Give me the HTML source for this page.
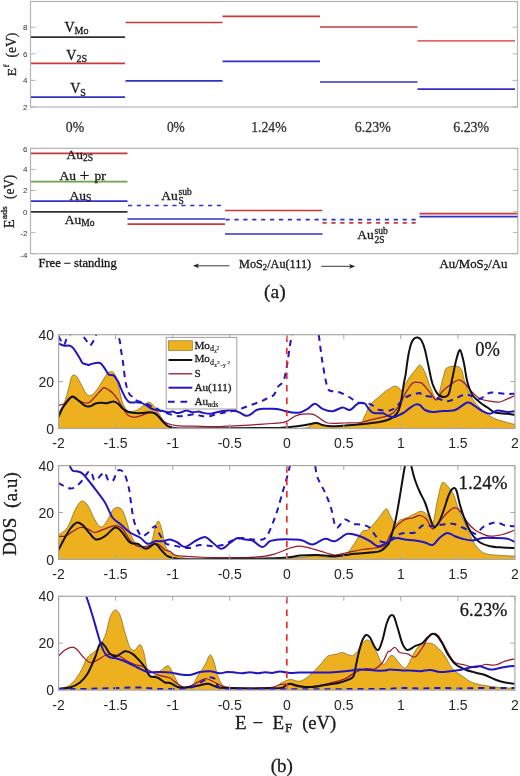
<!DOCTYPE html>
<html><head><meta charset="utf-8"><title>Figure</title>
<style>html,body{margin:0;padding:0;background:#fff;}svg{display:block;}
.s{font-family:"Liberation Serif",serif;fill:#1a1a1a;stroke:#1a1a1a;stroke-width:0.3px;}</style>
</head><body>
<svg width="520" height="776" viewBox="0 0 520 776">
<rect width="520" height="776" fill="#fff"/>
<rect x="30.5" y="1.5" width="487.0" height="105.5" fill="none" stroke="#b4b4b4" stroke-width="1.2"/>
<line x1="30.5" y1="107.0" x2="35.5" y2="107.0" stroke="#b4b4b4" stroke-width="1"/>
<line x1="512.5" y1="107.0" x2="517.5" y2="107.0" stroke="#b4b4b4" stroke-width="1"/>
<text x="27.4" y="109.9" font-family="'Liberation Sans', Arial, sans-serif" font-size="8" fill="#333" text-anchor="end">2</text>
<line x1="30.5" y1="80.4" x2="35.5" y2="80.4" stroke="#b4b4b4" stroke-width="1"/>
<line x1="512.5" y1="80.4" x2="517.5" y2="80.4" stroke="#b4b4b4" stroke-width="1"/>
<text x="27.4" y="83.3" font-family="'Liberation Sans', Arial, sans-serif" font-size="8" fill="#333" text-anchor="end">4</text>
<line x1="30.5" y1="53.8" x2="35.5" y2="53.8" stroke="#b4b4b4" stroke-width="1"/>
<line x1="512.5" y1="53.8" x2="517.5" y2="53.8" stroke="#b4b4b4" stroke-width="1"/>
<text x="27.4" y="56.7" font-family="'Liberation Sans', Arial, sans-serif" font-size="8" fill="#333" text-anchor="end">6</text>
<line x1="30.5" y1="27.2" x2="35.5" y2="27.2" stroke="#b4b4b4" stroke-width="1"/>
<line x1="512.5" y1="27.2" x2="517.5" y2="27.2" stroke="#b4b4b4" stroke-width="1"/>
<text x="27.4" y="30.1" font-family="'Liberation Sans', Arial, sans-serif" font-size="8" fill="#333" text-anchor="end">8</text>
<line x1="31.0" y1="37.1" x2="125.0" y2="37.1" stroke="#303030" stroke-width="1.7"/>
<line x1="31.0" y1="63.4" x2="125.0" y2="63.4" stroke="#cc3838" stroke-width="1.7"/>
<line x1="31.0" y1="97.1" x2="125.0" y2="97.1" stroke="#3030cc" stroke-width="1.7"/>
<line x1="125.5" y1="22.5" x2="222.5" y2="22.5" stroke="#cc3838" stroke-width="1.7"/>
<line x1="125.5" y1="80.9" x2="222.5" y2="80.9" stroke="#3030cc" stroke-width="1.7"/>
<line x1="222.5" y1="16.3" x2="320.0" y2="16.3" stroke="#cc3838" stroke-width="1.7"/>
<line x1="222.5" y1="61.3" x2="320.0" y2="61.3" stroke="#3030cc" stroke-width="1.7"/>
<line x1="320.0" y1="27.0" x2="417.5" y2="27.0" stroke="#cc3838" stroke-width="1.7"/>
<line x1="320.0" y1="82.0" x2="417.5" y2="82.0" stroke="#3030cc" stroke-width="1.7"/>
<line x1="417.5" y1="40.8" x2="515.0" y2="40.8" stroke="#e06868" stroke-width="1.7"/>
<line x1="417.5" y1="89.2" x2="515.0" y2="89.2" stroke="#3030cc" stroke-width="1.7"/>
<text x="64.4" y="31.8" class="s" font-size="14.0">V<tspan font-size="10.0" dy="2.2">Mo</tspan></text>
<text x="66.3" y="59.7" class="s" font-size="14.0">V<tspan font-size="10.0" dy="2.2">2S</tspan></text>
<text x="70.2" y="93.4" class="s" font-size="14.0">V<tspan font-size="10.0" dy="2.2">S</tspan></text>
<text transform="translate(15.6,76.3) rotate(-90)" class="s" font-size="13.5">E</text>
<text transform="translate(9.4,67.2) rotate(-90)" class="s" font-size="8.0">f</text>
<text transform="translate(16.4,57.6) rotate(-90)" class="s" font-size="14.5" textLength="25" lengthAdjust="spacingAndGlyphs">(eV)</text>
<text x="65.8" y="132.3" class="s" style="fill:#333;stroke:#333" font-size="15.5" textLength="18.4" lengthAdjust="spacingAndGlyphs">0%</text>
<text x="166.9" y="132.3" class="s" style="fill:#333;stroke:#333" font-size="15.5" textLength="17.9" lengthAdjust="spacingAndGlyphs">0%</text>
<text x="251.2" y="132.3" class="s" style="fill:#333;stroke:#333" font-size="15.5" textLength="35.5" lengthAdjust="spacingAndGlyphs">1.24%</text>
<text x="354.8" y="132.3" class="s" style="fill:#333;stroke:#333" font-size="15.5" textLength="36.0" lengthAdjust="spacingAndGlyphs">6.23%</text>
<text x="453.2" y="132.3" class="s" style="fill:#333;stroke:#333" font-size="15.5" textLength="36.0" lengthAdjust="spacingAndGlyphs">6.23%</text>
<rect x="30.5" y="148.3" width="487.3" height="105.4" fill="none" stroke="#b4b4b4" stroke-width="1.2"/>
<line x1="30.5" y1="148.6" x2="35.5" y2="148.6" stroke="#b4b4b4" stroke-width="1"/>
<line x1="512.8" y1="148.6" x2="517.8" y2="148.6" stroke="#b4b4b4" stroke-width="1"/>
<text x="27.4" y="151.5" font-family="'Liberation Sans', Arial, sans-serif" font-size="8" fill="#333" text-anchor="end">6</text>
<line x1="30.5" y1="169.4" x2="35.5" y2="169.4" stroke="#b4b4b4" stroke-width="1"/>
<line x1="512.8" y1="169.4" x2="517.8" y2="169.4" stroke="#b4b4b4" stroke-width="1"/>
<text x="27.4" y="172.3" font-family="'Liberation Sans', Arial, sans-serif" font-size="8" fill="#333" text-anchor="end">4</text>
<line x1="30.5" y1="190.5" x2="35.5" y2="190.5" stroke="#b4b4b4" stroke-width="1"/>
<line x1="512.8" y1="190.5" x2="517.8" y2="190.5" stroke="#b4b4b4" stroke-width="1"/>
<text x="27.4" y="193.4" font-family="'Liberation Sans', Arial, sans-serif" font-size="8" fill="#333" text-anchor="end">2</text>
<line x1="30.5" y1="211.7" x2="35.5" y2="211.7" stroke="#b4b4b4" stroke-width="1"/>
<line x1="512.8" y1="211.7" x2="517.8" y2="211.7" stroke="#b4b4b4" stroke-width="1"/>
<text x="27.4" y="214.6" font-family="'Liberation Sans', Arial, sans-serif" font-size="8" fill="#333" text-anchor="end">0</text>
<line x1="30.5" y1="232.6" x2="35.5" y2="232.6" stroke="#b4b4b4" stroke-width="1"/>
<line x1="512.8" y1="232.6" x2="517.8" y2="232.6" stroke="#b4b4b4" stroke-width="1"/>
<text x="27.4" y="235.5" font-family="'Liberation Sans', Arial, sans-serif" font-size="8" fill="#333" text-anchor="end">-2</text>
<line x1="30.5" y1="253.7" x2="35.5" y2="253.7" stroke="#b4b4b4" stroke-width="1"/>
<line x1="512.8" y1="253.7" x2="517.8" y2="253.7" stroke="#b4b4b4" stroke-width="1"/>
<text x="27.4" y="258.1" font-family="'Liberation Sans', Arial, sans-serif" font-size="8" fill="#333" text-anchor="end">-4</text>
<line x1="31.0" y1="153.3" x2="127.5" y2="153.3" stroke="#cc3838" stroke-width="1.7"/>
<line x1="31.0" y1="181.6" x2="127.5" y2="181.6" stroke="#6fa24a" stroke-width="1.7"/>
<line x1="31.0" y1="201.1" x2="127.5" y2="201.1" stroke="#3030cc" stroke-width="1.7"/>
<line x1="31.0" y1="211.8" x2="127.5" y2="211.8" stroke="#303030" stroke-width="1.7"/>
<line x1="127.9" y1="205.5" x2="225.0" y2="205.5" stroke="#3030cc" stroke-width="1.7" stroke-dasharray="4.2 4.7"/>
<line x1="127.5" y1="219.0" x2="225.0" y2="219.0" stroke="#3030cc" stroke-width="1.7"/>
<line x1="127.5" y1="224.2" x2="225.0" y2="224.2" stroke="#cc3838" stroke-width="1.7"/>
<line x1="225.0" y1="210.5" x2="322.5" y2="210.5" stroke="#cc3838" stroke-width="1.7"/>
<line x1="225.5" y1="219.7" x2="322.5" y2="219.7" stroke="#3030cc" stroke-width="1.7" stroke-dasharray="4.2 4.7"/>
<line x1="225.0" y1="234.0" x2="322.5" y2="234.0" stroke="#3030cc" stroke-width="1.7"/>
<line x1="322.5" y1="219.7" x2="417.5" y2="219.7" stroke="#3030cc" stroke-width="1.7" stroke-dasharray="4.2 4.7"/>
<line x1="322.5" y1="222.8" x2="417.5" y2="222.8" stroke="#cc3838" stroke-width="1.7" stroke-dasharray="4.2 4.7"/>
<line x1="419.5" y1="213.6" x2="517.5" y2="213.6" stroke="#cc3838" stroke-width="1.7"/>
<line x1="419.5" y1="216.6" x2="517.5" y2="216.6" stroke="#3030cc" stroke-width="1.7"/>
<text x="66.4" y="159.4" class="s" font-size="13.5">Au<tspan font-size="9.5" dy="1.7">2S</tspan></text>
<text x="59.6" y="179.6" class="s" font-size="13.5">Au</text>
<text x="79.4" y="181.0" class="s" font-size="17.5">+</text>
<text x="94.5" y="179.6" class="s" font-size="13.5">pr</text>
<text x="69.6" y="199.5" class="s" font-size="13.5">Au<tspan font-size="9.5" dy="1.2">S</tspan></text>
<text x="64.8" y="224.0" class="s" font-size="13.5">Au<tspan font-size="9.5" dy="2.3">Mo</tspan></text>
<text x="161.3" y="199.7" class="s" font-size="13.5">Au</text>
<text x="178.6" y="194.9" class="s" font-size="9.5">sub</text>
<text x="178.6" y="203.6" class="s" font-size="9.5">S</text>
<text x="357.2" y="238.8" class="s" font-size="13.5">Au</text>
<text x="374.6" y="233.5" class="s" font-size="9.5">sub</text>
<text x="374.6" y="243.1" class="s" font-size="9.5">2S</text>
<text transform="translate(13.5,228.3) rotate(-90)" class="s" font-size="14.5">E</text>
<text transform="translate(7.4,219.2) rotate(-90)" class="s" font-size="8.5" textLength="13" lengthAdjust="spacingAndGlyphs">ads</text>
<text transform="translate(14.3,199.0) rotate(-90)" class="s" font-size="14.5" textLength="24.3" lengthAdjust="spacingAndGlyphs">(eV)</text>
<text x="38.4" y="266.7" class="s" font-size="11.5" textLength="78.3" lengthAdjust="spacingAndGlyphs">Free − standing</text>
<line x1="196" y1="265.8" x2="229.4" y2="265.8" stroke="#222" stroke-width="0.9"/>
<path d="M192.9,265.8 L199,263.4 L197.6,265.8 L199,268.2 Z" fill="#222"/>
<line x1="321.3" y1="266.3" x2="352" y2="266.3" stroke="#222" stroke-width="0.9"/>
<path d="M355.2,266.3 L349.1,263.9 L350.5,266.3 L349.1,268.7 Z" fill="#222"/>
<text x="239.1" y="268.2" class="s" font-size="12" textLength="72" lengthAdjust="spacingAndGlyphs">MoS<tspan font-size="8.5" dy="2">2</tspan><tspan dy="-2">/Au(111)</tspan></text>
<text x="439.5" y="268.2" class="s" font-size="12" textLength="68" lengthAdjust="spacingAndGlyphs">Au/MoS<tspan font-size="8.5" dy="2">2</tspan><tspan dy="-2">/Au</tspan></text>
<text x="274.9" y="298.0" class="s" font-size="19.5" text-anchor="middle">(a)</text>
<clipPath id="c0"><rect x="58.6" y="334.7" width="456.3" height="93.8"/></clipPath>
<g clip-path="url(#c0)">
<path d="M58.4,412.3 C59.4,410.8 62.5,407.1 64.2,403.0 C65.9,398.9 67.5,392.2 68.8,387.7 C70.1,383.2 70.6,378.1 71.9,376.2 C73.2,374.3 75.0,374.8 76.5,376.2 C78.0,377.6 79.7,381.8 81.2,384.6 C82.8,387.4 84.4,391.1 85.8,393.0 C87.2,394.9 88.1,395.8 89.6,395.7 C91.1,395.6 93.1,394.4 95.0,392.3 C96.9,390.2 99.3,385.9 101.2,383.0 C103.1,380.1 105.1,376.4 106.5,374.6 C107.9,372.8 108.4,372.4 109.6,372.0 C110.8,371.6 112.3,371.2 113.5,372.3 C114.7,373.4 115.5,375.4 116.5,378.5 C117.5,381.6 118.6,386.7 119.6,390.8 C120.6,394.9 121.4,399.7 122.7,403.0 C124.0,406.3 125.9,409.4 127.3,410.8 C128.7,412.2 129.5,411.6 131.2,411.5 C132.9,411.4 135.2,411.0 137.3,410.0 C139.4,409.0 141.6,406.7 143.5,405.4 C145.4,404.1 147.3,402.4 148.8,402.3 C150.3,402.2 151.3,403.2 152.7,404.6 C154.1,406.0 155.8,408.5 157.3,410.8 C158.8,413.1 160.5,416.2 161.9,418.5 C163.3,420.8 164.5,423.1 165.8,424.6 C167.1,426.1 168.4,427.1 169.6,427.7 C170.8,428.3 169.6,428.3 172.7,428.4 C194.4,428.5 277.1,428.8 300.0,428.4 C310.0,428.0 307.5,426.9 310.0,426.0 C312.5,425.1 313.3,423.2 315.0,423.0 C316.7,422.8 317.2,423.9 320.0,424.5 C322.8,425.1 327.8,426.3 332.0,426.5 C336.2,426.7 340.3,426.0 345.0,425.5 C349.7,425.0 356.7,425.2 360.0,423.6 C363.3,422.0 363.1,418.9 364.6,416.1 C366.1,413.3 367.7,409.4 369.2,406.9 C370.7,404.4 372.1,402.8 373.8,401.1 C375.5,399.4 377.7,398.1 379.6,396.5 C381.5,394.9 383.5,392.7 385.4,391.3 C387.3,389.9 389.6,388.8 391.1,387.9 C392.6,387.0 393.2,386.1 394.6,386.1 C396.0,386.1 398.1,387.1 399.2,387.9 C400.3,388.7 400.4,391.7 401.5,390.8 C402.6,389.9 404.6,385.2 406.1,382.7 C407.6,380.2 409.1,377.9 410.7,375.8 C412.2,373.7 413.8,371.8 415.4,370.0 C416.9,368.2 418.4,364.6 420.0,365.0 C421.6,365.4 423.3,369.0 425.0,372.5 C426.7,376.0 428.1,381.9 430.0,386.2 C431.9,390.6 434.6,398.1 436.2,398.8 C437.9,399.4 438.8,394.0 440.0,390.0 C441.2,386.0 442.5,378.8 443.8,375.0 C445.0,371.2 444.8,368.8 447.5,367.5 C450.2,366.2 457.1,365.0 460.0,367.5 C462.9,370.0 463.3,377.9 465.0,382.5 C466.7,387.1 468.1,391.5 470.0,395.0 C471.9,398.5 473.8,400.8 476.2,403.8 C478.8,406.7 481.9,410.0 485.0,412.5 C488.1,415.0 491.2,417.1 495.0,418.8 C498.8,420.4 504.2,421.5 507.5,422.5 C510.8,423.5 513.8,424.2 515.0,424.5 L515.0,429.5 L58.4,429.5 Z" fill="#EDB120" stroke="#7d6418" stroke-width="0.7" stroke-linejoin="round"/>
<path d="M58.4,405.4 C59.4,405.1 62.5,404.9 64.2,403.8 C65.9,402.7 67.5,399.6 68.8,398.5 C70.1,397.4 70.6,396.8 71.9,396.9 C73.2,397.0 74.7,398.3 76.5,399.2 C78.3,400.1 80.7,401.7 82.7,402.3 C84.8,402.9 86.8,403.7 88.8,402.8 C90.8,401.9 92.9,399.0 95.0,396.9 C97.1,394.8 99.7,391.5 101.2,390.0 C102.7,388.5 102.9,387.7 104.2,387.7 C105.5,387.7 107.2,389.0 108.8,390.0 C110.3,391.0 112.0,392.1 113.5,393.8 C115.0,395.5 116.6,397.7 118.1,400.0 C119.6,402.3 121.2,405.3 122.7,407.7 C124.2,410.1 125.8,413.1 127.3,414.6 C128.8,416.1 130.2,416.5 131.9,416.9 C133.6,417.3 135.4,417.3 137.3,416.9 C139.2,416.5 141.4,415.3 143.5,414.6 C145.6,413.9 147.5,412.9 149.6,412.6 C151.7,412.4 154.0,412.2 155.8,413.1 C157.6,414.0 158.9,416.2 160.4,417.7 C161.9,419.2 163.2,421.1 165.0,422.3 C166.8,423.5 168.9,424.0 171.2,424.6 C173.5,425.2 175.0,425.5 178.8,425.8 C182.6,426.1 188.3,426.1 194.2,426.2 C200.1,426.3 207.6,426.8 214.2,426.7 C220.8,426.6 227.1,426.1 233.5,425.8 C239.9,425.5 246.3,425.2 252.7,424.8 C259.1,424.4 266.8,423.9 271.9,423.5 C277.0,423.1 280.6,422.9 283.5,422.3 C286.4,421.7 287.3,421.0 289.2,420.0 C291.1,419.0 292.8,417.2 295.0,416.2 C297.2,415.3 299.6,414.6 302.5,414.2 C305.4,413.9 309.8,413.7 312.5,414.2 C315.2,414.8 316.2,416.0 318.8,417.5 C321.2,419.0 323.1,422.1 327.5,423.0 C331.9,423.9 339.6,423.1 345.0,423.0 C350.4,422.9 356.4,422.9 360.0,422.5 C363.6,422.1 364.0,421.5 366.9,420.8 C369.8,420.1 374.0,419.2 377.3,418.4 C380.6,417.6 383.8,417.1 386.5,416.1 C389.2,415.2 391.5,414.2 393.4,412.7 C395.3,411.2 396.8,408.8 398.1,406.9 C399.5,405.0 400.4,403.2 401.5,401.1 C402.6,399.0 403.9,396.3 405.0,394.2 C406.1,392.1 407.2,390.2 408.4,388.5 C409.5,386.8 410.7,384.9 411.9,383.8 C413.1,382.7 414.0,382.3 415.4,382.1 C416.8,381.9 418.8,382.4 420.0,382.7 C421.2,383.0 420.8,382.1 422.5,383.8 C424.2,385.4 427.7,389.8 430.0,392.5 C432.3,395.2 434.2,400.2 436.2,400.0 C438.3,399.8 440.2,393.8 442.5,391.2 C444.8,388.8 447.3,386.9 450.0,385.0 C452.7,383.1 456.2,380.2 458.8,380.0 C461.2,379.8 462.7,381.7 465.0,383.8 C467.3,385.8 470.0,390.0 472.5,392.5 C475.0,395.0 477.1,397.3 480.0,398.8 C482.9,400.2 486.7,400.7 490.0,401.2 C493.3,401.8 497.1,402.4 500.0,402.0 C502.9,401.6 505.0,399.8 507.5,398.8 C510.0,397.7 513.8,396.0 515.0,395.5" fill="none" stroke="#9a1a2c" stroke-width="1.25" stroke-linejoin="round"/>
<path d="M58.4,417.2 C59.1,415.6 61.2,410.3 62.7,407.7 C64.2,405.1 65.8,403.4 67.3,401.5 C68.8,399.6 70.6,397.2 71.9,396.6 C73.2,396.0 73.7,396.9 75.0,397.7 C76.3,398.5 77.8,400.1 79.6,401.5 C81.4,402.9 84.0,405.4 85.8,406.2 C87.6,407.0 88.9,406.6 90.4,406.2 C91.9,405.8 93.2,404.4 95.0,403.8 C96.8,403.2 99.2,402.9 101.2,402.8 C103.2,402.7 105.2,403.3 107.3,403.1 C109.3,402.9 111.7,401.4 113.5,401.5 C115.3,401.6 116.6,402.6 118.1,403.8 C119.6,405.0 121.2,407.2 122.7,408.5 C124.2,409.8 125.9,410.8 127.3,411.5 C128.7,412.2 129.0,412.3 131.2,412.6 C133.4,412.9 137.6,413.2 140.4,413.1 C143.2,413.1 145.7,412.3 148.0,412.3 C150.3,412.3 152.4,412.3 154.2,413.1 C156.0,413.9 157.2,415.4 158.8,416.9 C160.4,418.4 161.9,420.8 163.5,422.3 C165.1,423.9 166.3,425.2 168.1,426.2 C169.9,427.1 171.1,427.6 174.2,428.0 C177.3,428.4 174.2,428.4 186.5,428.4 C202.5,428.4 253.6,428.1 270.0,428.0 C285.0,427.9 279.6,427.9 285.0,427.5 C290.4,427.1 297.3,426.2 302.5,425.5 C307.7,424.8 312.9,423.1 316.2,423.0 C319.6,422.9 319.8,424.5 322.5,425.0 C325.2,425.5 326.7,426.3 332.5,426.2 C338.3,426.2 351.0,425.0 357.5,424.5 C364.0,424.0 367.2,423.6 371.5,423.1 C375.8,422.6 380.0,422.0 383.1,421.3 C386.2,420.6 388.1,419.9 390.0,419.0 C391.9,418.1 393.2,417.4 394.6,416.1 C396.0,414.9 397.1,413.4 398.1,411.5 C399.1,409.6 399.7,407.3 400.4,404.6 C401.1,401.9 401.5,398.9 402.1,395.4 C402.7,391.9 403.2,387.3 403.8,383.8 C404.4,380.3 405.0,378.2 405.6,374.6 C406.2,371.0 406.7,365.8 407.3,362.0 C407.9,358.2 408.3,355.1 409.0,352.0 C409.7,348.9 410.4,345.7 411.2,343.5 C412.1,341.3 413.0,339.8 414.0,338.8 C415.0,337.8 416.3,337.3 417.5,337.5 C418.7,337.7 420.0,337.9 421.2,340.0 C422.5,342.1 423.8,345.4 425.0,350.0 C426.2,354.6 427.5,361.9 428.8,367.5 C430.0,373.1 431.0,379.4 432.5,383.8 C434.0,388.1 435.6,391.5 437.5,393.8 C439.4,396.0 441.9,397.0 443.8,397.0 C445.6,397.0 447.3,397.0 448.8,393.8 C450.2,390.5 451.2,383.1 452.5,377.5 C453.8,371.9 455.0,364.6 456.2,360.0 C457.5,355.4 458.8,349.6 460.0,350.0 C461.2,350.4 462.5,357.1 463.8,362.5 C465.0,367.9 466.0,377.1 467.5,382.5 C469.0,387.9 470.4,391.7 472.5,395.0 C474.6,398.3 477.5,400.4 480.0,402.5 C482.5,404.6 485.0,405.8 487.5,407.5 C490.0,409.2 491.7,411.5 495.0,412.5 C498.3,413.5 504.2,413.3 507.5,413.8 C510.8,414.2 513.8,414.8 515.0,415.0" fill="none" stroke="#111" stroke-width="2.0" stroke-linejoin="round"/>
<path d="M58.4,343.5 C59.3,343.8 61.5,344.9 63.7,345.5 C65.9,346.1 69.2,344.7 71.8,346.8 C74.4,348.9 77.9,355.4 79.6,358.0 C81.3,360.6 81.1,361.3 81.9,362.3 C82.7,363.3 83.1,363.4 84.2,363.8 C85.3,364.2 87.6,364.9 88.6,365.0 C89.6,365.1 88.6,364.7 90.4,364.3 C92.2,363.9 97.2,362.2 99.5,362.8 C101.8,363.4 102.7,365.7 104.2,367.7 C105.8,369.7 107.2,373.3 108.8,374.6 C110.3,375.9 112.0,374.2 113.5,375.4 C115.0,376.5 116.8,379.2 118.1,381.5 C119.4,383.8 119.9,386.4 121.2,389.2 C122.5,392.0 124.4,396.3 125.8,398.5 C127.2,400.7 127.9,401.7 129.6,402.3 C131.3,402.9 133.8,402.2 135.8,402.3 C137.9,402.4 140.1,402.6 141.9,403.1 C143.7,403.6 144.9,404.5 146.5,405.4 C148.1,406.3 149.6,407.7 151.2,408.5 C152.8,409.3 154.0,409.6 155.8,410.0 C157.6,410.4 159.9,410.4 161.9,410.8 C163.9,411.2 166.3,412.2 168.1,412.3 C169.9,412.4 171.2,411.4 172.7,411.5 C174.2,411.6 175.8,413.0 177.3,413.1 C178.8,413.2 180.4,412.4 181.9,412.0 C183.4,411.6 184.7,410.4 186.5,410.5 C188.3,410.6 190.6,412.1 192.7,412.3 C194.8,412.5 197.1,411.4 198.8,411.5 C200.5,411.6 200.8,412.3 202.7,412.7 C204.6,413.1 207.8,413.9 210.4,413.8 C213.0,413.7 215.5,412.4 218.1,411.9 C220.7,411.4 223.2,411.1 225.8,410.8 C228.4,410.6 231.3,410.1 233.5,410.4 C235.7,410.6 237.1,411.4 239.2,412.3 C241.3,413.2 244.1,415.5 246.0,415.8 C247.9,416.1 249.1,415.2 250.8,414.2 C252.6,413.2 254.3,410.9 256.5,410.0 C258.7,409.1 261.6,409.0 264.2,408.8 C266.8,408.6 269.3,408.7 271.9,408.8 C274.5,408.9 277.4,409.0 279.6,409.4 C281.9,409.8 283.3,410.8 285.4,411.3 C287.5,411.8 289.6,412.3 292.0,412.5 C294.4,412.7 297.4,413.1 300.0,412.5 C302.6,411.9 305.0,410.2 307.5,408.8 C310.0,407.3 312.5,403.8 315.0,403.8 C317.5,403.8 319.6,407.5 322.5,408.8 C325.4,410.0 329.2,411.5 332.5,411.2 C335.8,411.0 339.6,407.7 342.5,407.5 C345.4,407.3 347.5,410.6 350.0,410.0 C352.5,409.4 355.1,404.9 357.5,403.8 C359.9,402.6 362.8,402.7 364.6,403.4 C366.4,404.1 366.8,406.6 368.1,408.1 C369.5,409.7 371.0,411.8 372.7,412.7 C374.4,413.6 376.8,413.2 378.5,413.3 C380.2,413.4 381.6,412.9 383.1,413.3 C384.6,413.7 386.0,414.9 387.7,415.6 C389.4,416.3 391.7,417.3 393.4,417.3 C395.1,417.3 396.4,416.4 398.1,415.6 C399.8,414.8 401.9,413.9 403.8,412.7 C405.7,411.4 407.7,409.5 409.6,408.1 C411.5,406.8 413.7,405.1 415.4,404.6 C417.1,404.1 418.4,404.3 420.0,405.2 C421.6,406.1 422.9,408.9 425.0,410.0 C427.1,411.1 430.0,411.8 432.5,412.0 C435.0,412.2 436.2,411.6 440.0,411.2 C443.8,410.9 450.4,411.5 455.0,410.0 C459.6,408.5 464.2,403.1 467.5,402.5 C470.8,401.9 472.5,404.8 475.0,406.2 C477.5,407.7 480.0,410.0 482.5,411.2 C485.0,412.5 487.5,413.9 490.0,413.8 C492.5,413.6 494.6,410.8 497.5,410.5 C500.4,410.2 504.6,411.9 507.5,412.0 C510.4,412.1 513.8,411.4 515.0,411.2" fill="none" stroke="#2216c0" stroke-width="2.0" stroke-linejoin="round"/>
<path d="M58.4,336.0 C59.3,337.5 62.4,344.2 63.7,344.8 C65.0,345.4 65.4,341.0 66.4,339.4 C67.4,337.8 68.9,337.0 69.8,335.4 C70.7,333.8 70.3,330.9 72.0,330.0 C73.7,329.1 78.2,329.1 80.0,330.0 C81.8,330.9 81.6,333.7 82.6,335.4 C83.6,337.1 84.8,338.3 86.0,340.0 C87.2,341.7 88.7,345.5 90.0,345.5 C91.3,345.5 93.0,341.7 94.0,340.0 C95.0,338.3 95.3,337.1 96.0,335.4 C96.7,333.7 96.0,330.9 98.0,330.0 C101.2,329.1 111.8,329.2 115.0,330.0 C117.0,330.8 116.2,333.3 117.0,335.0 C117.8,336.7 118.9,337.5 119.6,340.0 C120.3,342.5 120.5,346.7 121.0,350.0 C121.5,353.3 122.0,355.2 122.7,360.0 C123.4,364.8 124.2,373.6 125.0,378.5 C125.8,383.4 126.4,386.4 127.3,389.2 C128.2,392.0 129.1,394.0 130.4,395.4 C131.7,396.8 133.8,396.8 135.0,397.7 C136.2,398.6 135.6,399.9 137.3,400.8 C139.0,401.7 142.7,402.2 145.0,403.1 C147.3,404.0 149.4,405.4 151.2,406.2 C153.0,407.0 154.3,406.9 155.8,407.7 C157.3,408.5 158.6,409.9 160.4,410.8 C162.2,411.7 164.2,412.3 166.5,413.1 C168.8,413.9 171.9,414.9 174.2,415.4 C176.5,415.9 178.3,416.2 180.4,416.2 C182.5,416.2 184.1,415.7 186.5,415.4 C188.9,415.1 192.6,414.1 195.0,414.2 C197.4,414.3 198.6,415.4 200.8,415.8 C203.1,416.2 205.9,416.8 208.5,416.5 C211.1,416.2 213.6,414.8 216.2,414.2 C218.8,413.6 221.2,413.2 223.8,412.7 C226.4,412.2 228.9,411.9 231.5,411.3 C234.1,410.8 236.6,410.2 239.2,409.4 C241.8,408.6 244.3,407.4 246.9,406.5 C249.5,405.6 252.0,404.6 254.6,403.7 C257.2,402.8 260.1,401.8 262.3,400.8 C264.6,399.8 266.2,398.9 268.1,397.9 C270.0,396.9 272.2,396.7 273.8,395.0 C275.4,393.3 275.8,390.0 277.5,387.5 C279.2,385.0 282.1,384.2 283.8,380.0 C285.4,375.8 286.5,368.3 287.5,362.5 C288.5,356.7 289.2,349.8 290.0,345.0 C290.8,340.2 291.8,337.1 292.5,333.8 C293.2,330.4 292.5,326.5 294.0,325.0 C298.1,323.5 312.9,323.3 317.0,325.0 C318.8,326.7 317.8,328.8 318.8,335.0 C319.7,341.2 321.0,353.8 322.5,362.5 C324.0,371.2 325.8,382.7 327.5,387.5 C329.2,392.3 330.4,390.4 332.5,391.2 C334.6,392.1 337.1,391.5 340.0,392.5 C342.9,393.5 347.1,395.8 350.0,397.5 C352.9,399.2 354.7,401.5 357.5,402.5 C360.3,403.5 364.6,403.0 366.9,403.4 C369.2,403.8 369.8,403.6 371.5,404.6 C373.2,405.6 375.4,408.2 377.3,409.2 C379.2,410.2 381.0,410.2 383.1,410.4 C385.2,410.6 388.1,410.8 390.0,410.4 C391.9,410.0 393.1,409.3 394.6,408.1 C396.1,406.9 397.7,404.9 399.2,403.4 C400.7,401.8 402.3,400.0 403.8,398.8 C405.3,397.6 406.7,396.8 408.4,396.0 C410.1,395.2 412.3,394.7 414.2,394.2 C416.1,393.7 418.6,392.9 420.0,393.1 C421.4,393.3 420.0,394.8 422.5,395.5 C425.0,396.2 430.8,396.5 435.0,397.5 C439.2,398.5 443.8,401.2 447.5,401.2 C451.2,401.2 454.6,398.6 457.5,397.5 C460.4,396.4 462.5,394.7 465.0,394.5 C467.5,394.3 470.0,395.5 472.5,396.2 C475.0,397.0 477.5,399.2 480.0,398.8 C482.5,398.3 485.4,394.8 487.5,393.8 C489.6,392.7 489.6,392.5 492.5,392.5 C495.4,392.5 501.2,393.5 505.0,393.8 C508.8,394.0 513.3,393.8 515.0,393.8" fill="none" stroke="#2216c0" stroke-width="2.0" stroke-dasharray="6 5" stroke-linejoin="round"/>
<line x1="286.8" y1="335.4" x2="286.8" y2="428.5" stroke="#e82c2c" stroke-width="1.7" stroke-dasharray="6.5 5.9"/>
</g>
<rect x="58.6" y="334.7" width="456.3" height="93.8" fill="none" stroke="#a8a8a8" stroke-width="1.2"/>
<line x1="58.6" y1="428.5" x2="58.6" y2="424.0" stroke="#a8a8a8" stroke-width="1"/>
<line x1="58.6" y1="334.7" x2="58.6" y2="339.2" stroke="#a8a8a8" stroke-width="1"/>
<text x="58.6" y="447.9" font-family="'Liberation Sans', Arial, sans-serif" font-size="14" fill="#262626" text-anchor="middle">-2</text>
<line x1="115.6" y1="428.5" x2="115.6" y2="424.0" stroke="#a8a8a8" stroke-width="1"/>
<line x1="115.6" y1="334.7" x2="115.6" y2="339.2" stroke="#a8a8a8" stroke-width="1"/>
<text x="115.6" y="447.9" font-family="'Liberation Sans', Arial, sans-serif" font-size="14" fill="#262626" text-anchor="middle">-1.5</text>
<line x1="172.7" y1="428.5" x2="172.7" y2="424.0" stroke="#a8a8a8" stroke-width="1"/>
<line x1="172.7" y1="334.7" x2="172.7" y2="339.2" stroke="#a8a8a8" stroke-width="1"/>
<text x="172.7" y="447.9" font-family="'Liberation Sans', Arial, sans-serif" font-size="14" fill="#262626" text-anchor="middle">-1</text>
<line x1="229.7" y1="428.5" x2="229.7" y2="424.0" stroke="#a8a8a8" stroke-width="1"/>
<line x1="229.7" y1="334.7" x2="229.7" y2="339.2" stroke="#a8a8a8" stroke-width="1"/>
<text x="229.7" y="447.9" font-family="'Liberation Sans', Arial, sans-serif" font-size="14" fill="#262626" text-anchor="middle">-0.5</text>
<line x1="286.8" y1="428.5" x2="286.8" y2="424.0" stroke="#a8a8a8" stroke-width="1"/>
<line x1="286.8" y1="334.7" x2="286.8" y2="339.2" stroke="#a8a8a8" stroke-width="1"/>
<text x="286.8" y="447.9" font-family="'Liberation Sans', Arial, sans-serif" font-size="14" fill="#262626" text-anchor="middle">0</text>
<line x1="343.8" y1="428.5" x2="343.8" y2="424.0" stroke="#a8a8a8" stroke-width="1"/>
<line x1="343.8" y1="334.7" x2="343.8" y2="339.2" stroke="#a8a8a8" stroke-width="1"/>
<text x="343.8" y="447.9" font-family="'Liberation Sans', Arial, sans-serif" font-size="14" fill="#262626" text-anchor="middle">0.5</text>
<line x1="400.8" y1="428.5" x2="400.8" y2="424.0" stroke="#a8a8a8" stroke-width="1"/>
<line x1="400.8" y1="334.7" x2="400.8" y2="339.2" stroke="#a8a8a8" stroke-width="1"/>
<text x="400.8" y="447.9" font-family="'Liberation Sans', Arial, sans-serif" font-size="14" fill="#262626" text-anchor="middle">1</text>
<line x1="457.9" y1="428.5" x2="457.9" y2="424.0" stroke="#a8a8a8" stroke-width="1"/>
<line x1="457.9" y1="334.7" x2="457.9" y2="339.2" stroke="#a8a8a8" stroke-width="1"/>
<text x="457.9" y="447.9" font-family="'Liberation Sans', Arial, sans-serif" font-size="14" fill="#262626" text-anchor="middle">1.5</text>
<line x1="514.9" y1="428.5" x2="514.9" y2="424.0" stroke="#a8a8a8" stroke-width="1"/>
<line x1="514.9" y1="334.7" x2="514.9" y2="339.2" stroke="#a8a8a8" stroke-width="1"/>
<text x="514.9" y="447.9" font-family="'Liberation Sans', Arial, sans-serif" font-size="14" fill="#262626" text-anchor="middle">2</text>
<line x1="58.6" y1="428.5" x2="63.1" y2="428.5" stroke="#a8a8a8" stroke-width="1"/>
<line x1="514.9" y1="428.5" x2="510.4" y2="428.5" stroke="#a8a8a8" stroke-width="1"/>
<text x="54.0" y="433.6" font-family="'Liberation Sans', Arial, sans-serif" font-size="14" fill="#262626" text-anchor="end">0</text>
<line x1="58.6" y1="381.6" x2="63.1" y2="381.6" stroke="#a8a8a8" stroke-width="1"/>
<line x1="514.9" y1="381.6" x2="510.4" y2="381.6" stroke="#a8a8a8" stroke-width="1"/>
<text x="54.0" y="386.7" font-family="'Liberation Sans', Arial, sans-serif" font-size="14" fill="#262626" text-anchor="end">20</text>
<line x1="58.6" y1="334.7" x2="63.1" y2="334.7" stroke="#a8a8a8" stroke-width="1"/>
<line x1="514.9" y1="334.7" x2="510.4" y2="334.7" stroke="#a8a8a8" stroke-width="1"/>
<text x="54.0" y="339.8" font-family="'Liberation Sans', Arial, sans-serif" font-size="14" fill="#262626" text-anchor="end">40</text>
<clipPath id="c1"><rect x="58.6" y="465.6" width="456.3" height="93.8"/></clipPath>
<g clip-path="url(#c1)">
<path d="M58.4,535.0 C59.9,533.8 64.7,531.7 67.5,527.5 C70.3,523.3 72.7,514.4 75.0,510.0 C77.3,505.6 79.2,502.1 81.2,501.2 C83.3,500.4 85.2,501.9 87.5,505.0 C89.8,508.1 92.7,516.3 95.0,520.0 C97.3,523.7 99.2,527.0 101.2,527.0 C103.3,527.0 105.4,523.0 107.5,520.0 C109.6,517.0 111.5,510.6 113.8,508.8 C116.0,506.9 119.2,506.9 121.2,508.8 C123.3,510.6 124.8,516.0 126.2,520.0 C127.7,524.0 128.5,528.8 130.0,532.5 C131.5,536.2 132.9,539.8 135.0,542.5 C137.1,545.2 139.8,548.8 142.5,548.8 C145.2,548.8 149.2,546.0 151.2,542.5 C153.3,539.0 153.8,531.0 155.0,527.5 C156.2,524.0 157.5,520.4 158.8,521.2 C160.0,522.1 161.5,528.5 162.5,532.5 C163.5,536.5 163.8,541.7 165.0,545.0 C166.2,548.3 167.9,550.6 170.0,552.5 C172.1,554.4 175.0,555.3 177.5,556.2 C180.0,557.2 181.2,557.4 185.0,558.0 C188.8,558.6 186.7,559.4 200.0,559.7 C213.3,560.0 251.7,559.9 265.0,559.7 C278.3,559.5 274.2,558.9 280.0,558.5 C285.8,558.1 293.8,557.9 300.0,557.5 C306.2,557.1 311.7,556.0 317.5,556.0 C323.3,556.0 330.0,558.1 335.0,557.5 C340.0,556.9 344.2,555.0 347.5,552.5 C350.8,550.0 352.5,546.0 355.0,542.5 C357.5,539.0 360.4,533.3 362.5,531.2 C364.6,529.2 365.4,531.5 367.5,530.0 C369.6,528.5 372.9,524.8 375.0,522.5 C377.1,520.2 378.1,518.5 380.0,516.2 C381.9,514.0 384.6,509.0 386.2,508.8 C387.9,508.5 388.5,512.5 390.0,515.0 C391.5,517.5 393.3,522.9 395.0,523.8 C396.7,524.6 397.9,521.0 400.0,520.0 C402.1,519.0 405.0,518.5 407.5,517.5 C410.0,516.5 412.7,514.8 415.0,513.8 C417.3,512.7 419.2,511.0 421.2,511.2 C423.3,511.5 425.8,513.1 427.5,515.0 C429.2,516.9 430.2,521.7 431.2,522.5 C432.3,523.3 432.7,523.8 433.8,520.0 C434.8,516.2 436.2,505.8 437.5,500.0 C438.8,494.2 440.2,487.9 441.2,485.0 C442.3,482.1 442.5,482.1 443.8,482.5 C445.0,482.9 447.1,485.4 448.8,487.5 C450.4,489.6 452.1,491.2 453.8,495.0 C455.4,498.8 456.9,505.2 458.8,510.0 C460.6,514.8 462.9,519.2 465.0,523.8 C467.1,528.3 469.4,533.8 471.2,537.5 C473.1,541.2 474.2,543.7 476.2,546.2 C478.3,548.8 480.6,551.5 483.8,553.0 C486.9,554.5 489.8,554.5 495.0,555.0 C500.2,555.5 511.7,556.0 515.0,556.2 L515.0,560.4 L58.4,560.4 Z" fill="#EDB120" stroke="#7d6418" stroke-width="0.7" stroke-linejoin="round"/>
<path d="M58.4,536.2 C59.5,536.2 62.9,536.9 65.0,536.2 C67.1,535.6 68.8,534.0 71.2,532.5 C73.8,531.0 77.3,528.1 80.0,527.5 C82.7,526.9 85.0,527.9 87.5,528.8 C90.0,529.6 92.1,532.5 95.0,532.5 C97.9,532.5 101.7,529.9 105.0,528.8 C108.3,527.6 112.1,525.5 115.0,525.5 C117.9,525.5 120.0,526.3 122.5,528.8 C125.0,531.2 127.5,537.1 130.0,540.0 C132.5,542.9 134.6,545.2 137.5,546.2 C140.4,547.3 144.2,546.7 147.5,546.2 C150.8,545.8 154.6,543.1 157.5,543.8 C160.4,544.4 162.9,548.8 165.0,550.0 C167.1,551.2 168.3,550.4 170.0,551.2 C171.7,552.1 172.9,554.2 175.0,555.0 C177.1,555.8 177.1,555.8 182.5,556.2 C187.9,556.7 197.1,557.3 207.5,557.5 C217.9,557.7 235.4,557.7 245.0,557.5 C254.6,557.3 260.0,556.9 265.0,556.2 C270.0,555.6 271.7,554.8 275.0,553.8 C278.3,552.7 282.5,551.0 285.0,550.0 C287.5,549.0 287.5,548.6 290.0,548.0 C292.5,547.4 296.2,546.1 300.0,546.2 C303.8,546.4 308.3,547.7 312.5,548.8 C316.7,549.8 321.2,551.5 325.0,552.5 C328.8,553.5 331.2,555.0 335.0,555.0 C338.8,555.0 342.9,553.4 347.5,552.5 C352.1,551.6 357.9,550.2 362.5,549.5 C367.1,548.8 371.2,548.8 375.0,548.0 C378.8,547.2 382.5,547.2 385.0,545.0 C387.5,542.8 387.9,538.3 390.0,535.0 C392.1,531.7 395.0,527.6 397.5,525.0 C400.0,522.4 402.5,520.7 405.0,519.5 C407.5,518.3 410.0,518.7 412.5,518.0 C415.0,517.3 417.7,515.4 420.0,515.5 C422.3,515.6 424.2,516.5 426.2,518.8 C428.3,521.0 430.4,528.1 432.5,528.8 C434.6,529.4 436.2,525.2 438.8,522.5 C441.2,519.8 444.8,515.0 447.5,512.5 C450.2,510.0 452.7,507.5 455.0,507.5 C457.3,507.5 459.2,510.0 461.2,512.5 C463.3,515.0 465.2,519.6 467.5,522.5 C469.8,525.4 472.5,528.1 475.0,530.0 C477.5,531.9 480.0,532.7 482.5,533.8 C485.0,534.8 486.7,536.1 490.0,536.2 C493.3,536.4 498.3,535.5 502.5,534.5 C506.7,533.5 512.9,530.8 515.0,530.0" fill="none" stroke="#9a1a2c" stroke-width="1.25" stroke-linejoin="round"/>
<path d="M58.4,550.0 C59.5,547.9 62.9,541.2 65.0,537.5 C67.1,533.8 69.2,530.0 71.2,527.5 C73.3,525.0 75.4,522.7 77.5,522.5 C79.6,522.3 81.7,524.4 83.8,526.2 C85.8,528.1 87.9,531.5 90.0,533.8 C92.1,536.0 93.8,539.1 96.2,539.5 C98.8,539.9 101.9,538.2 105.0,536.2 C108.1,534.2 112.3,528.3 115.0,527.5 C117.7,526.7 118.8,528.8 121.2,531.2 C123.8,533.8 127.3,540.4 130.0,542.5 C132.7,544.6 134.8,542.7 137.5,543.8 C140.2,544.8 143.3,548.8 146.2,548.8 C149.2,548.8 152.5,543.5 155.0,543.8 C157.5,544.0 159.2,547.9 161.2,550.0 C163.3,552.1 164.8,554.8 167.5,556.2 C170.2,557.7 172.1,558.3 177.5,558.8 C182.9,559.2 182.9,559.3 200.0,559.2 C217.1,559.1 263.3,558.6 280.0,558.0 C296.7,557.4 293.8,556.0 300.0,555.5 C306.2,555.0 311.7,554.9 317.5,555.0 C323.3,555.1 328.8,556.5 335.0,556.2 C341.2,556.0 349.2,554.4 355.0,553.8 C360.8,553.1 365.8,552.9 370.0,552.5 C374.2,552.1 377.1,552.5 380.0,551.2 C382.9,550.0 385.8,546.9 387.5,545.0 C389.2,543.1 388.8,543.8 390.0,540.0 C391.2,536.2 393.5,528.8 395.0,522.5 C396.5,516.2 397.5,509.6 398.8,502.5 C400.0,495.4 401.5,486.2 402.5,480.0 C403.5,473.8 404.2,469.7 405.0,465.5 C405.8,461.3 406.3,456.8 407.0,455.0 C407.7,453.2 408.3,453.2 409.0,455.0 C409.7,456.8 410.2,461.3 411.2,465.5 C412.2,469.7 413.5,475.5 415.0,480.0 C416.5,484.5 418.3,488.8 420.0,492.5 C421.7,496.2 423.3,498.3 425.0,502.5 C426.7,506.7 428.5,513.4 430.0,517.5 C431.5,521.6 432.3,526.2 433.8,527.0 C435.2,527.8 437.1,525.3 438.8,522.5 C440.4,519.7 442.1,514.6 443.8,510.0 C445.4,505.4 447.3,498.5 448.8,495.0 C450.2,491.5 451.2,489.6 452.5,488.8 C453.8,487.9 455.0,487.3 456.2,490.0 C457.5,492.7 458.5,500.0 460.0,505.0 C461.5,510.0 462.9,515.0 465.0,520.0 C467.1,525.0 470.0,531.2 472.5,535.0 C475.0,538.8 477.1,540.6 480.0,542.5 C482.9,544.4 486.2,545.4 490.0,546.2 C493.8,547.1 498.3,547.2 502.5,547.5 C506.7,547.8 512.9,547.9 515.0,548.0" fill="none" stroke="#111" stroke-width="2.0" stroke-linejoin="round"/>
<path d="M68.5,460.0 C68.7,460.9 68.9,463.6 69.6,465.4 C70.3,467.2 71.3,469.8 72.7,470.8 C74.1,471.8 76.3,471.0 78.0,471.5 C79.7,472.0 80.6,471.9 82.7,473.8 C84.8,475.7 88.4,480.5 90.4,483.0 C92.5,485.5 92.6,485.5 95.0,488.8 C97.4,492.0 102.1,497.7 105.0,502.5 C107.9,507.3 110.0,514.0 112.5,517.5 C115.0,521.0 117.1,521.2 120.0,523.8 C122.9,526.2 126.7,530.2 130.0,532.5 C133.3,534.8 137.1,535.6 140.0,537.5 C142.9,539.4 145.0,543.1 147.5,543.8 C150.0,544.4 152.5,541.7 155.0,541.2 C157.5,540.8 160.0,541.5 162.5,541.2 C165.0,541.0 167.5,539.3 170.0,539.5 C172.5,539.7 175.0,541.2 177.5,542.5 C180.0,543.8 182.1,547.2 185.0,547.0 C187.9,546.8 191.7,542.9 195.0,541.2 C198.3,539.6 202.1,536.8 205.0,537.0 C207.9,537.2 209.8,540.5 212.5,542.5 C215.2,544.5 218.3,548.7 221.2,548.8 C224.2,548.8 227.3,544.8 230.0,543.0 C232.7,541.2 235.0,538.6 237.5,538.0 C240.0,537.4 242.5,539.1 245.0,539.5 C247.5,539.9 249.6,539.2 252.5,540.5 C255.4,541.8 259.6,546.9 262.5,547.0 C265.4,547.1 267.1,542.5 270.0,541.2 C272.9,540.0 276.2,539.8 280.0,539.5 C283.8,539.2 288.8,539.3 292.5,539.5 C296.2,539.7 299.2,539.7 302.5,540.5 C305.8,541.3 308.8,544.8 312.5,544.5 C316.2,544.2 321.2,539.3 325.0,538.8 C328.8,538.2 331.2,542.1 335.0,541.2 C338.8,540.4 343.3,534.6 347.5,533.8 C351.7,532.9 356.2,535.0 360.0,536.2 C363.8,537.5 367.1,539.6 370.0,541.2 C372.9,542.9 375.0,545.8 377.5,546.2 C380.0,546.7 382.5,544.9 385.0,543.8 C387.5,542.6 390.4,540.5 392.5,539.5 C394.6,538.5 395.4,538.0 397.5,538.0 C399.6,538.0 402.1,539.1 405.0,539.5 C407.9,539.9 411.7,540.0 415.0,540.5 C418.3,541.0 422.1,541.8 425.0,542.5 C427.9,543.2 430.0,545.8 432.5,545.0 C435.0,544.2 437.5,539.5 440.0,537.5 C442.5,535.5 445.0,533.2 447.5,533.0 C450.0,532.8 452.5,535.3 455.0,536.2 C457.5,537.2 459.6,538.0 462.5,538.8 C465.4,539.5 469.2,540.6 472.5,540.5 C475.8,540.4 478.8,538.4 482.5,538.0 C486.2,537.6 490.8,537.9 495.0,538.0 C499.2,538.1 504.2,538.1 507.5,538.8 C510.8,539.4 513.8,541.5 515.0,542.0" fill="none" stroke="#2216c0" stroke-width="2.0" stroke-linejoin="round"/>
<path d="M58.4,483.0 C59.3,483.5 62.0,485.1 64.0,486.0 C66.0,486.9 68.6,488.3 70.4,488.5 C72.2,488.7 73.6,487.8 75.0,487.0 C76.4,486.2 77.7,485.2 79.0,484.0 C80.3,482.8 81.5,481.5 82.7,480.0 C83.9,478.5 85.0,476.4 86.0,475.0 C87.0,473.6 88.0,472.0 88.8,471.5 C89.6,471.0 90.3,471.1 91.0,472.0 C91.7,472.9 92.5,475.7 93.0,477.0 C93.5,478.3 93.5,479.6 94.2,480.0 C94.9,480.4 96.2,480.0 97.3,479.2 C98.4,478.4 99.8,476.1 101.0,475.0 C102.2,473.9 103.4,472.3 104.2,472.3 C105.0,472.3 105.2,473.6 106.0,475.0 C106.8,476.4 107.5,480.0 108.8,480.8 C110.0,481.6 112.2,481.4 113.5,480.0 C114.8,478.6 115.5,474.0 116.5,472.3 C117.5,470.6 118.4,470.0 119.6,470.0 C120.8,470.0 122.5,471.1 123.5,472.3 C124.5,473.5 124.9,474.4 125.8,477.0 C126.7,479.6 128.0,484.1 128.8,487.7 C129.6,491.3 129.6,493.1 130.4,498.5 C131.2,503.9 132.4,514.3 133.8,520.0 C135.1,525.7 137.3,529.8 138.8,532.5 C140.2,535.2 140.6,536.5 142.5,536.2 C144.4,536.0 147.9,532.9 150.0,531.2 C152.1,529.6 153.3,525.6 155.0,526.2 C156.7,526.9 158.1,532.1 160.0,535.0 C161.9,537.9 164.6,542.2 166.2,543.8 C167.9,545.3 167.7,544.0 170.0,544.5 C172.3,545.0 176.7,546.4 180.0,547.0 C183.3,547.6 186.7,548.3 190.0,548.0 C193.3,547.7 196.2,545.3 200.0,545.0 C203.8,544.7 208.8,546.2 212.5,546.2 C216.2,546.2 219.2,546.0 222.5,545.0 C225.8,544.0 229.2,541.7 232.5,540.5 C235.8,539.3 239.2,538.2 242.5,538.0 C245.8,537.8 249.2,539.2 252.5,539.5 C255.8,539.8 260.0,540.2 262.5,539.5 C265.0,538.8 265.8,537.6 267.5,535.0 C269.2,532.4 270.8,527.9 272.5,523.8 C274.2,519.6 275.8,515.2 277.5,510.0 C279.2,504.8 281.0,497.5 282.5,492.5 C284.0,487.5 285.1,484.2 286.2,480.0 C287.4,475.8 288.7,471.2 289.5,467.5 C290.3,463.8 289.5,459.6 291.0,458.0 C294.9,456.4 309.0,456.8 313.0,458.0 C315.0,459.2 314.2,461.8 315.0,465.0 C315.8,468.2 315.8,472.9 317.5,477.5 C319.2,482.1 322.7,487.3 325.0,492.5 C327.3,497.7 329.4,502.9 331.2,508.8 C333.1,514.6 334.0,525.7 336.2,527.5 C338.5,529.3 342.3,520.1 345.0,519.5 C347.7,518.9 350.0,522.9 352.5,523.8 C355.0,524.6 357.3,524.0 360.0,524.5 C362.7,525.0 366.2,525.2 368.8,527.0 C371.2,528.8 373.1,532.6 375.0,535.0 C376.9,537.4 377.9,540.0 380.0,541.2 C382.1,542.5 385.8,542.7 387.5,542.5 C389.2,542.3 388.3,541.2 390.0,540.0 C391.7,538.8 395.0,536.2 397.5,535.0 C400.0,533.8 402.1,533.4 405.0,533.0 C407.9,532.6 412.1,533.8 415.0,532.5 C417.9,531.2 419.6,526.5 422.5,525.5 C425.4,524.5 429.2,526.4 432.5,526.2 C435.8,526.1 439.2,524.9 442.5,524.5 C445.8,524.1 449.2,523.2 452.5,523.8 C455.8,524.2 459.6,526.2 462.5,527.5 C465.4,528.8 467.7,530.2 470.0,531.2 C472.3,532.3 474.2,534.4 476.2,533.8 C478.3,533.1 480.2,529.2 482.5,527.5 C484.8,525.8 487.5,524.6 490.0,523.8 C492.5,522.9 495.0,522.2 497.5,522.5 C500.0,522.8 502.1,524.9 505.0,525.5 C507.9,526.1 513.3,526.1 515.0,526.2" fill="none" stroke="#2216c0" stroke-width="2.0" stroke-dasharray="6 5" stroke-linejoin="round"/>
<line x1="286.8" y1="466.3" x2="286.8" y2="559.4" stroke="#e82c2c" stroke-width="1.7" stroke-dasharray="6.5 5.9"/>
</g>
<rect x="58.6" y="465.6" width="456.3" height="93.8" fill="none" stroke="#a8a8a8" stroke-width="1.2"/>
<line x1="58.6" y1="559.4" x2="58.6" y2="554.9" stroke="#a8a8a8" stroke-width="1"/>
<line x1="58.6" y1="465.6" x2="58.6" y2="470.1" stroke="#a8a8a8" stroke-width="1"/>
<text x="58.6" y="578.8" font-family="'Liberation Sans', Arial, sans-serif" font-size="14" fill="#262626" text-anchor="middle">-2</text>
<line x1="115.6" y1="559.4" x2="115.6" y2="554.9" stroke="#a8a8a8" stroke-width="1"/>
<line x1="115.6" y1="465.6" x2="115.6" y2="470.1" stroke="#a8a8a8" stroke-width="1"/>
<text x="115.6" y="578.8" font-family="'Liberation Sans', Arial, sans-serif" font-size="14" fill="#262626" text-anchor="middle">-1.5</text>
<line x1="172.7" y1="559.4" x2="172.7" y2="554.9" stroke="#a8a8a8" stroke-width="1"/>
<line x1="172.7" y1="465.6" x2="172.7" y2="470.1" stroke="#a8a8a8" stroke-width="1"/>
<text x="172.7" y="578.8" font-family="'Liberation Sans', Arial, sans-serif" font-size="14" fill="#262626" text-anchor="middle">-1</text>
<line x1="229.7" y1="559.4" x2="229.7" y2="554.9" stroke="#a8a8a8" stroke-width="1"/>
<line x1="229.7" y1="465.6" x2="229.7" y2="470.1" stroke="#a8a8a8" stroke-width="1"/>
<text x="229.7" y="578.8" font-family="'Liberation Sans', Arial, sans-serif" font-size="14" fill="#262626" text-anchor="middle">-0.5</text>
<line x1="286.8" y1="559.4" x2="286.8" y2="554.9" stroke="#a8a8a8" stroke-width="1"/>
<line x1="286.8" y1="465.6" x2="286.8" y2="470.1" stroke="#a8a8a8" stroke-width="1"/>
<text x="286.8" y="578.8" font-family="'Liberation Sans', Arial, sans-serif" font-size="14" fill="#262626" text-anchor="middle">0</text>
<line x1="343.8" y1="559.4" x2="343.8" y2="554.9" stroke="#a8a8a8" stroke-width="1"/>
<line x1="343.8" y1="465.6" x2="343.8" y2="470.1" stroke="#a8a8a8" stroke-width="1"/>
<text x="343.8" y="578.8" font-family="'Liberation Sans', Arial, sans-serif" font-size="14" fill="#262626" text-anchor="middle">0.5</text>
<line x1="400.8" y1="559.4" x2="400.8" y2="554.9" stroke="#a8a8a8" stroke-width="1"/>
<line x1="400.8" y1="465.6" x2="400.8" y2="470.1" stroke="#a8a8a8" stroke-width="1"/>
<text x="400.8" y="578.8" font-family="'Liberation Sans', Arial, sans-serif" font-size="14" fill="#262626" text-anchor="middle">1</text>
<line x1="457.9" y1="559.4" x2="457.9" y2="554.9" stroke="#a8a8a8" stroke-width="1"/>
<line x1="457.9" y1="465.6" x2="457.9" y2="470.1" stroke="#a8a8a8" stroke-width="1"/>
<text x="457.9" y="578.8" font-family="'Liberation Sans', Arial, sans-serif" font-size="14" fill="#262626" text-anchor="middle">1.5</text>
<line x1="514.9" y1="559.4" x2="514.9" y2="554.9" stroke="#a8a8a8" stroke-width="1"/>
<line x1="514.9" y1="465.6" x2="514.9" y2="470.1" stroke="#a8a8a8" stroke-width="1"/>
<text x="514.9" y="578.8" font-family="'Liberation Sans', Arial, sans-serif" font-size="14" fill="#262626" text-anchor="middle">2</text>
<line x1="58.6" y1="559.4" x2="63.1" y2="559.4" stroke="#a8a8a8" stroke-width="1"/>
<line x1="514.9" y1="559.4" x2="510.4" y2="559.4" stroke="#a8a8a8" stroke-width="1"/>
<text x="54.0" y="564.5" font-family="'Liberation Sans', Arial, sans-serif" font-size="14" fill="#262626" text-anchor="end">0</text>
<line x1="58.6" y1="512.5" x2="63.1" y2="512.5" stroke="#a8a8a8" stroke-width="1"/>
<line x1="514.9" y1="512.5" x2="510.4" y2="512.5" stroke="#a8a8a8" stroke-width="1"/>
<text x="54.0" y="517.6" font-family="'Liberation Sans', Arial, sans-serif" font-size="14" fill="#262626" text-anchor="end">20</text>
<line x1="58.6" y1="465.6" x2="63.1" y2="465.6" stroke="#a8a8a8" stroke-width="1"/>
<line x1="514.9" y1="465.6" x2="510.4" y2="465.6" stroke="#a8a8a8" stroke-width="1"/>
<text x="54.0" y="470.7" font-family="'Liberation Sans', Arial, sans-serif" font-size="14" fill="#262626" text-anchor="end">40</text>
<clipPath id="c2"><rect x="58.6" y="596.3" width="456.3" height="93.8"/></clipPath>
<g clip-path="url(#c2)">
<path d="M58.4,688.8 C60.3,688.1 66.4,687.7 70.0,685.0 C73.6,682.3 77.1,677.1 80.0,672.5 C82.9,667.9 85.0,661.0 87.5,657.5 C90.0,654.0 92.7,653.5 95.0,651.2 C97.3,649.0 99.4,646.9 101.2,643.8 C103.1,640.6 104.8,636.9 106.2,632.5 C107.7,628.1 108.5,621.2 110.0,617.5 C111.5,613.8 113.3,610.4 115.0,610.0 C116.7,609.6 118.3,611.2 120.0,615.0 C121.7,618.8 123.3,627.1 125.0,632.5 C126.7,637.9 128.3,644.6 130.0,647.5 C131.7,650.4 133.3,650.5 135.0,650.0 C136.7,649.5 138.5,644.1 140.0,644.5 C141.5,644.9 142.5,648.2 143.8,652.5 C145.0,656.8 146.0,666.0 147.5,670.0 C149.0,674.0 150.4,676.0 152.5,676.2 C154.6,676.5 157.7,672.9 160.0,671.2 C162.3,669.6 164.6,666.9 166.2,666.2 C167.9,665.6 168.5,665.6 170.0,667.5 C171.5,669.4 173.3,674.4 175.0,677.5 C176.7,680.6 178.3,684.5 180.0,686.2 C181.7,688.0 182.9,688.2 185.0,688.0 C187.1,687.8 190.4,687.0 192.5,685.0 C194.6,683.0 195.4,679.6 197.5,676.2 C199.6,672.9 202.9,668.5 205.0,665.0 C207.1,661.5 208.5,655.6 210.0,655.0 C211.5,654.4 212.5,657.9 213.8,661.2 C215.0,664.6 216.0,671.0 217.5,675.0 C219.0,679.0 220.4,682.8 222.5,685.0 C224.6,687.2 222.5,687.6 230.0,688.2 C238.8,688.9 266.7,689.5 275.0,688.8 C280.0,688.0 277.5,685.3 280.0,683.8 C282.5,682.2 286.7,679.9 290.0,679.5 C293.3,679.1 296.7,682.0 300.0,681.2 C303.3,680.5 306.7,677.7 310.0,675.0 C313.3,672.3 317.1,668.1 320.0,665.0 C322.9,661.9 325.4,657.9 327.5,656.2 C329.6,654.6 330.8,655.4 332.5,655.0 C334.2,654.6 335.8,654.2 337.5,653.8 C339.2,653.3 340.8,652.4 342.5,652.5 C344.2,652.6 345.8,654.0 347.5,654.5 C349.2,655.0 350.8,656.0 352.5,655.5 C354.2,655.0 355.8,653.2 357.5,651.2 C359.2,649.3 361.0,645.6 362.5,643.8 C364.0,641.9 364.8,640.2 366.2,640.0 C367.7,639.8 369.6,640.6 371.2,642.5 C372.9,644.4 374.6,647.9 376.2,651.2 C377.9,654.6 379.8,660.4 381.2,662.5 C382.7,664.6 383.5,664.8 385.0,663.8 C386.5,662.7 388.5,657.5 390.0,656.2 C391.5,655.0 392.3,655.2 393.8,656.2 C395.2,657.3 396.9,660.5 398.8,662.5 C400.6,664.5 403.1,668.2 405.0,668.0 C406.9,667.8 408.3,664.0 410.0,661.2 C411.7,658.5 413.3,653.9 415.0,651.2 C416.7,648.6 417.5,646.9 420.0,645.5 C422.5,644.1 427.1,642.7 430.0,643.0 C432.9,643.3 435.0,645.3 437.5,647.5 C440.0,649.7 442.5,652.7 445.0,656.2 C447.5,659.8 449.6,665.4 452.5,668.8 C455.4,672.1 459.2,674.0 462.5,676.2 C465.8,678.5 468.8,681.0 472.5,682.5 C476.2,684.0 480.4,684.7 485.0,685.5 C489.6,686.3 495.0,687.0 500.0,687.5 C505.0,688.0 512.5,688.1 515.0,688.2 L515.0,691.1 L58.4,691.1 Z" fill="#EDB120" stroke="#7d6418" stroke-width="0.7" stroke-linejoin="round"/>
<path d="M58.4,656.2 C59.5,655.2 62.6,651.5 65.0,650.0 C67.3,648.5 70.4,647.0 72.5,647.0 C74.6,647.0 75.8,648.5 77.5,650.0 C79.2,651.5 80.4,654.2 82.5,656.2 C84.6,658.3 87.5,661.9 90.0,662.5 C92.5,663.1 95.0,661.2 97.5,660.0 C100.0,658.8 102.5,656.4 105.0,655.5 C107.5,654.6 110.0,654.4 112.5,654.5 C115.0,654.6 117.5,655.1 120.0,656.2 C122.5,657.4 125.0,659.9 127.5,661.2 C130.0,662.6 132.5,663.7 135.0,664.5 C137.5,665.3 140.4,665.4 142.5,666.2 C144.6,667.1 145.4,668.2 147.5,669.5 C149.6,670.8 152.5,672.6 155.0,673.8 C157.5,674.9 160.0,675.5 162.5,676.2 C165.0,677.0 167.5,676.8 170.0,678.0 C172.5,679.2 175.0,682.2 177.5,683.8 C180.0,685.3 182.1,687.5 185.0,687.5 C187.9,687.5 191.7,685.2 195.0,683.8 C198.3,682.3 202.1,679.2 205.0,678.8 C207.9,678.3 210.0,680.2 212.5,681.2 C215.0,682.3 217.1,684.0 220.0,685.0 C222.9,686.0 221.7,687.1 230.0,687.5 C238.3,687.9 261.7,688.0 270.0,687.5 C278.3,687.0 276.7,685.0 280.0,684.5 C283.3,684.0 286.7,684.1 290.0,684.5 C293.3,684.9 295.8,686.7 300.0,687.0 C304.2,687.3 310.0,686.9 315.0,686.2 C320.0,685.6 325.0,684.2 330.0,683.0 C335.0,681.8 340.8,680.5 345.0,678.8 C349.2,677.0 351.7,674.2 355.0,672.5 C358.3,670.8 361.7,669.4 365.0,668.8 C368.3,668.1 372.1,669.8 375.0,668.8 C377.9,667.7 380.4,665.2 382.5,662.5 C384.6,659.8 386.2,654.4 387.5,652.5 C388.8,650.6 388.8,652.1 390.0,651.2 C391.2,650.4 393.3,647.3 395.0,647.5 C396.7,647.7 397.9,651.5 400.0,652.5 C402.1,653.5 405.0,653.0 407.5,653.8 C410.0,654.5 412.5,658.0 415.0,657.0 C417.5,656.0 420.4,650.5 422.5,647.5 C424.6,644.5 425.8,641.0 427.5,638.8 C429.2,636.5 430.8,634.4 432.5,633.8 C434.2,633.1 435.8,633.5 437.5,635.0 C439.2,636.5 440.4,639.0 442.5,642.5 C444.6,646.0 447.9,652.9 450.0,656.2 C452.1,659.6 452.5,661.0 455.0,662.5 C457.5,664.0 461.7,664.2 465.0,665.0 C468.3,665.8 471.7,667.6 475.0,667.5 C478.3,667.4 481.7,664.9 485.0,664.5 C488.3,664.1 491.7,665.5 495.0,665.0 C498.3,664.5 501.7,662.3 505.0,661.2 C508.3,660.2 513.3,659.2 515.0,658.8" fill="none" stroke="#9a1a2c" stroke-width="1.25" stroke-linejoin="round"/>
<path d="M58.4,688.8 C60.3,688.5 66.4,688.5 70.0,687.5 C73.6,686.5 77.1,684.8 80.0,682.5 C82.9,680.2 85.0,677.9 87.5,673.8 C90.0,669.6 93.1,662.1 95.0,657.5 C96.9,652.9 97.7,648.8 98.8,646.2 C99.8,643.8 100.2,642.5 101.2,642.5 C102.3,642.5 103.5,644.4 105.0,646.2 C106.5,648.1 108.1,652.1 110.0,653.8 C111.9,655.4 113.8,656.7 116.2,656.2 C118.8,655.8 122.3,651.7 125.0,651.2 C127.7,650.8 130.0,652.1 132.5,653.8 C135.0,655.4 137.9,659.0 140.0,661.2 C142.1,663.5 143.3,665.0 145.0,667.5 C146.7,670.0 147.9,674.6 150.0,676.2 C152.1,677.9 155.0,676.5 157.5,677.5 C160.0,678.5 162.9,681.6 165.0,682.5 C167.1,683.4 167.5,682.2 170.0,683.0 C172.5,683.8 175.8,687.0 180.0,687.5 C184.2,688.0 190.4,686.9 195.0,686.2 C199.6,685.6 204.2,683.8 207.5,683.8 C210.8,683.8 212.1,685.5 215.0,686.2 C217.9,687.0 215.0,687.7 225.0,688.0 C235.8,688.3 270.0,688.3 280.0,688.0 C285.0,687.7 283.3,687.0 285.0,686.2 C286.7,685.5 287.5,683.8 290.0,683.8 C292.5,683.8 296.2,685.7 300.0,686.2 C303.8,686.8 308.3,687.2 312.5,687.0 C316.7,686.8 320.4,685.8 325.0,685.0 C329.6,684.2 335.4,683.8 340.0,682.5 C344.6,681.2 350.0,679.6 352.5,677.5 C355.0,675.4 354.0,674.2 355.0,670.0 C356.0,665.8 357.5,657.5 358.8,652.5 C360.0,647.5 361.2,642.9 362.5,640.0 C363.8,637.1 365.0,635.4 366.2,635.0 C367.5,634.6 368.5,635.4 370.0,637.5 C371.5,639.6 373.5,645.5 375.0,647.5 C376.5,649.5 377.5,650.8 378.8,649.5 C380.0,648.2 381.2,644.1 382.5,640.0 C383.8,635.9 385.0,629.0 386.2,625.0 C387.5,621.0 388.8,617.7 390.0,616.2 C391.2,614.8 392.5,614.4 393.8,616.2 C395.0,618.1 396.0,622.9 397.5,627.5 C399.0,632.1 400.8,640.0 402.5,643.8 C404.2,647.5 405.4,649.6 407.5,650.0 C409.6,650.4 412.5,647.4 415.0,646.2 C417.5,645.1 420.4,644.5 422.5,643.0 C424.6,641.5 425.8,639.0 427.5,637.5 C429.2,636.0 430.8,634.0 432.5,633.8 C434.2,633.5 435.8,634.6 437.5,636.2 C439.2,637.9 440.8,640.8 442.5,643.8 C444.2,646.7 445.4,650.4 447.5,653.8 C449.6,657.1 452.1,661.1 455.0,663.8 C457.9,666.4 461.7,668.0 465.0,669.5 C468.3,671.0 471.7,671.6 475.0,672.5 C478.3,673.4 481.7,673.8 485.0,675.0 C488.3,676.2 491.7,678.2 495.0,679.5 C498.3,680.8 501.7,681.8 505.0,682.5 C508.3,683.2 513.3,683.5 515.0,683.8" fill="none" stroke="#111" stroke-width="2.0" stroke-linejoin="round"/>
<path d="M84.5,590.0 C84.8,591.0 85.3,593.3 86.2,596.2 C87.2,599.2 88.8,603.5 90.0,607.5 C91.2,611.5 92.5,615.8 93.8,620.0 C95.0,624.2 96.5,629.4 97.5,633.0 C98.5,636.6 99.2,638.9 100.0,641.5 C100.8,644.1 101.7,646.5 102.5,648.5 C103.3,650.5 104.1,652.0 105.0,653.3 C105.9,654.6 106.8,655.5 108.0,656.3 C109.2,657.0 110.4,657.4 112.0,657.8 C113.6,658.2 114.9,658.0 117.5,658.8 C120.1,659.5 124.2,661.0 127.5,662.5 C130.8,664.0 134.2,665.9 137.5,667.5 C140.8,669.1 144.2,671.2 147.5,672.0 C150.8,672.8 153.8,671.9 157.5,672.0 C161.2,672.1 166.2,672.1 170.0,672.5 C173.8,672.9 176.7,674.1 180.0,674.5 C183.3,674.9 186.7,675.4 190.0,675.0 C193.3,674.6 196.7,672.6 200.0,672.0 C203.3,671.4 206.7,671.0 210.0,671.2 C213.3,671.5 217.2,673.1 220.0,673.2 C222.8,673.4 224.5,672.1 227.0,672.0 C229.5,671.9 232.5,672.3 235.0,672.5 C237.5,672.7 239.5,673.3 242.0,673.3 C244.5,673.2 247.3,672.2 250.0,672.2 C252.7,672.2 255.5,673.2 258.0,673.2 C260.5,673.2 262.7,672.2 265.0,672.2 C267.3,672.2 269.5,673.1 272.0,673.0 C274.5,672.9 277.0,671.5 280.0,671.5 C283.0,671.5 286.7,672.8 290.0,673.0 C293.3,673.2 295.8,672.6 300.0,672.5 C304.2,672.4 310.0,672.5 315.0,672.5 C320.0,672.5 325.0,672.7 330.0,672.5 C335.0,672.3 340.0,671.8 345.0,671.2 C350.0,670.8 355.0,669.6 360.0,669.5 C365.0,669.4 370.8,670.3 375.0,670.5 C379.2,670.7 382.5,670.7 385.0,670.5 C387.5,670.3 387.1,669.5 390.0,669.5 C392.9,669.5 399.2,670.3 402.5,670.5 C405.8,670.7 407.1,670.4 410.0,670.5 C412.9,670.6 416.7,671.3 420.0,671.2 C423.3,671.2 426.7,669.9 430.0,670.0 C433.3,670.1 436.7,671.8 440.0,672.0 C443.3,672.2 446.7,671.6 450.0,671.2 C453.3,670.9 456.7,670.6 460.0,670.0 C463.3,669.4 466.7,668.1 470.0,667.5 C473.3,666.9 476.7,665.9 480.0,666.2 C483.3,666.6 486.7,669.2 490.0,669.5 C493.3,669.8 496.7,668.5 500.0,668.0 C503.3,667.5 507.5,666.5 510.0,666.2 C512.5,666.0 514.2,666.2 515.0,666.2" fill="none" stroke="#2216c0" stroke-width="2.0" stroke-linejoin="round"/>
<path d="M58.4,689.0 C62.0,689.0 73.1,689.1 80.0,689.0 C86.9,688.9 93.3,688.7 100.0,688.5 C106.7,688.3 113.3,688.2 120.0,688.0 C126.7,687.8 133.3,687.3 140.0,687.5 C146.7,687.7 152.5,688.8 160.0,689.0 C167.5,689.2 179.2,689.0 185.0,688.5 C190.8,688.0 192.0,687.2 195.0,686.0 C198.0,684.8 200.5,682.4 203.0,681.0 C205.5,679.6 208.0,677.8 210.0,677.5 C212.0,677.2 213.3,677.2 215.0,679.0 C216.7,680.8 215.8,686.3 220.0,688.0 C224.2,689.7 220.0,688.8 240.0,689.0 C266.7,689.2 353.3,689.2 380.0,689.0 C400.0,688.8 393.3,688.1 400.0,688.0 C406.7,687.9 413.3,688.5 420.0,688.5 C426.7,688.5 433.3,688.0 440.0,688.0 C446.7,688.0 453.3,688.5 460.0,688.5 C466.7,688.5 470.8,688.1 480.0,688.0 C489.2,687.9 509.2,688.0 515.0,688.0" fill="none" stroke="#2216c0" stroke-width="2.0" stroke-dasharray="6 5" stroke-linejoin="round"/>
<line x1="286.8" y1="597.0" x2="286.8" y2="690.1" stroke="#e82c2c" stroke-width="1.7" stroke-dasharray="6.5 5.9"/>
</g>
<rect x="58.6" y="596.3" width="456.3" height="93.8" fill="none" stroke="#a8a8a8" stroke-width="1.2"/>
<line x1="58.6" y1="690.1" x2="58.6" y2="685.6" stroke="#a8a8a8" stroke-width="1"/>
<line x1="58.6" y1="596.3" x2="58.6" y2="600.8" stroke="#a8a8a8" stroke-width="1"/>
<text x="58.6" y="709.5" font-family="'Liberation Sans', Arial, sans-serif" font-size="14" fill="#262626" text-anchor="middle">-2</text>
<line x1="115.6" y1="690.1" x2="115.6" y2="685.6" stroke="#a8a8a8" stroke-width="1"/>
<line x1="115.6" y1="596.3" x2="115.6" y2="600.8" stroke="#a8a8a8" stroke-width="1"/>
<text x="115.6" y="709.5" font-family="'Liberation Sans', Arial, sans-serif" font-size="14" fill="#262626" text-anchor="middle">-1.5</text>
<line x1="172.7" y1="690.1" x2="172.7" y2="685.6" stroke="#a8a8a8" stroke-width="1"/>
<line x1="172.7" y1="596.3" x2="172.7" y2="600.8" stroke="#a8a8a8" stroke-width="1"/>
<text x="172.7" y="709.5" font-family="'Liberation Sans', Arial, sans-serif" font-size="14" fill="#262626" text-anchor="middle">-1</text>
<line x1="229.7" y1="690.1" x2="229.7" y2="685.6" stroke="#a8a8a8" stroke-width="1"/>
<line x1="229.7" y1="596.3" x2="229.7" y2="600.8" stroke="#a8a8a8" stroke-width="1"/>
<text x="229.7" y="709.5" font-family="'Liberation Sans', Arial, sans-serif" font-size="14" fill="#262626" text-anchor="middle">-0.5</text>
<line x1="286.8" y1="690.1" x2="286.8" y2="685.6" stroke="#a8a8a8" stroke-width="1"/>
<line x1="286.8" y1="596.3" x2="286.8" y2="600.8" stroke="#a8a8a8" stroke-width="1"/>
<text x="286.8" y="709.5" font-family="'Liberation Sans', Arial, sans-serif" font-size="14" fill="#262626" text-anchor="middle">0</text>
<line x1="343.8" y1="690.1" x2="343.8" y2="685.6" stroke="#a8a8a8" stroke-width="1"/>
<line x1="343.8" y1="596.3" x2="343.8" y2="600.8" stroke="#a8a8a8" stroke-width="1"/>
<text x="343.8" y="709.5" font-family="'Liberation Sans', Arial, sans-serif" font-size="14" fill="#262626" text-anchor="middle">0.5</text>
<line x1="400.8" y1="690.1" x2="400.8" y2="685.6" stroke="#a8a8a8" stroke-width="1"/>
<line x1="400.8" y1="596.3" x2="400.8" y2="600.8" stroke="#a8a8a8" stroke-width="1"/>
<text x="400.8" y="709.5" font-family="'Liberation Sans', Arial, sans-serif" font-size="14" fill="#262626" text-anchor="middle">1</text>
<line x1="457.9" y1="690.1" x2="457.9" y2="685.6" stroke="#a8a8a8" stroke-width="1"/>
<line x1="457.9" y1="596.3" x2="457.9" y2="600.8" stroke="#a8a8a8" stroke-width="1"/>
<text x="457.9" y="709.5" font-family="'Liberation Sans', Arial, sans-serif" font-size="14" fill="#262626" text-anchor="middle">1.5</text>
<line x1="514.9" y1="690.1" x2="514.9" y2="685.6" stroke="#a8a8a8" stroke-width="1"/>
<line x1="514.9" y1="596.3" x2="514.9" y2="600.8" stroke="#a8a8a8" stroke-width="1"/>
<text x="514.9" y="709.5" font-family="'Liberation Sans', Arial, sans-serif" font-size="14" fill="#262626" text-anchor="middle">2</text>
<line x1="58.6" y1="690.1" x2="63.1" y2="690.1" stroke="#a8a8a8" stroke-width="1"/>
<line x1="514.9" y1="690.1" x2="510.4" y2="690.1" stroke="#a8a8a8" stroke-width="1"/>
<text x="54.0" y="695.2" font-family="'Liberation Sans', Arial, sans-serif" font-size="14" fill="#262626" text-anchor="end">0</text>
<line x1="58.6" y1="643.2" x2="63.1" y2="643.2" stroke="#a8a8a8" stroke-width="1"/>
<line x1="514.9" y1="643.2" x2="510.4" y2="643.2" stroke="#a8a8a8" stroke-width="1"/>
<text x="54.0" y="648.3" font-family="'Liberation Sans', Arial, sans-serif" font-size="14" fill="#262626" text-anchor="end">20</text>
<line x1="58.6" y1="596.3" x2="63.1" y2="596.3" stroke="#a8a8a8" stroke-width="1"/>
<line x1="514.9" y1="596.3" x2="510.4" y2="596.3" stroke="#a8a8a8" stroke-width="1"/>
<text x="54.0" y="601.4" font-family="'Liberation Sans', Arial, sans-serif" font-size="14" fill="#262626" text-anchor="end">40</text>
<text x="475.2" y="356.3" class="s" font-size="21" textLength="24.6" lengthAdjust="spacingAndGlyphs">0%</text>
<text x="458.6" y="488.6" class="s" font-size="18" textLength="48.9" lengthAdjust="spacingAndGlyphs">1.24%</text>
<text x="459.8" y="616.2" class="s" font-size="18" textLength="47.7" lengthAdjust="spacingAndGlyphs">6.23%</text>
<rect x="166.2" y="337.4" width="70.6" height="71.6" fill="#fff" stroke="#a0a0a0" stroke-width="1"/>
<rect x="168.5" y="340.8" width="23.8" height="9.7" fill="#EDB120" stroke="#7d6418" stroke-width="0.6"/>
<line x1="168.5" y1="360" x2="192.3" y2="360" stroke="#111" stroke-width="2"/>
<line x1="168.5" y1="373.8" x2="192.3" y2="373.8" stroke="#9a1a2c" stroke-width="1.3"/>
<line x1="168.5" y1="387.7" x2="192.3" y2="387.7" stroke="#2216c0" stroke-width="2"/>
<line x1="168.0" y1="401.8" x2="190.5" y2="401.8" stroke="#2216c0" stroke-width="2" stroke-dasharray="6.7 5.8"/>
<text x="194.4" y="348.6" class="s" font-size="11.2">Mo</text>
<text x="209.9" y="351.2" class="s" font-size="8" style="stroke-width:0.2px">d</text>
<text x="214.2" y="353.2" class="s" font-size="5.5" style="stroke-width:0.15px">z</text>
<text x="216.4" y="350.0" class="s" font-size="5.5" style="stroke-width:0.15px">2</text>
<text x="194.4" y="361.9" class="s" font-size="11.2">Mo</text>
<text x="209.9" y="364.5" class="s" font-size="8" style="stroke-width:0.2px">d</text>
<text x="214.2" y="366.6" class="s" font-size="5.5" style="stroke-width:0.15px">x</text>
<text x="217.2" y="363.6" class="s" font-size="5" style="stroke-width:0.15px">2</text>
<text x="220.0" y="366.6" class="s" font-size="5.5" style="stroke-width:0.15px">−y</text>
<text x="227.6" y="363.6" class="s" font-size="5" style="stroke-width:0.15px">2</text>
<text x="194.4" y="377.3" class="s" font-size="11.2">S</text>
<text x="194.4" y="391.3" class="s" font-size="11.2">Au(111)</text>
<text x="194.4" y="405.2" class="s" font-size="11.2">Au</text>
<text x="207.8" y="407.2" class="s" font-size="8" style="stroke-width:0.2px">ads</text>
<text transform="translate(15.9,555.8) rotate(-90)" class="s" font-size="19.0">DOS</text>
<text transform="translate(16.5,508.0) rotate(-90)" class="s" font-size="19.5" textLength="36" lengthAdjust="spacingAndGlyphs">(a.u)</text>
<text x="235.0" y="729.2" class="s" font-size="19.0">E</text>
<text x="252.6" y="729.2" class="s" font-size="19.0">−</text>
<text x="272.6" y="729.2" class="s" font-size="19.0">E</text>
<text x="285.0" y="732.2" class="s" font-size="13.0">F</text>
<text x="302.2" y="729.2" class="s" font-size="19" textLength="34" lengthAdjust="spacingAndGlyphs">(eV)</text>
<text x="281.8" y="771.5" class="s" font-size="19" text-anchor="middle">(b)</text>
</svg>
</body></html>
